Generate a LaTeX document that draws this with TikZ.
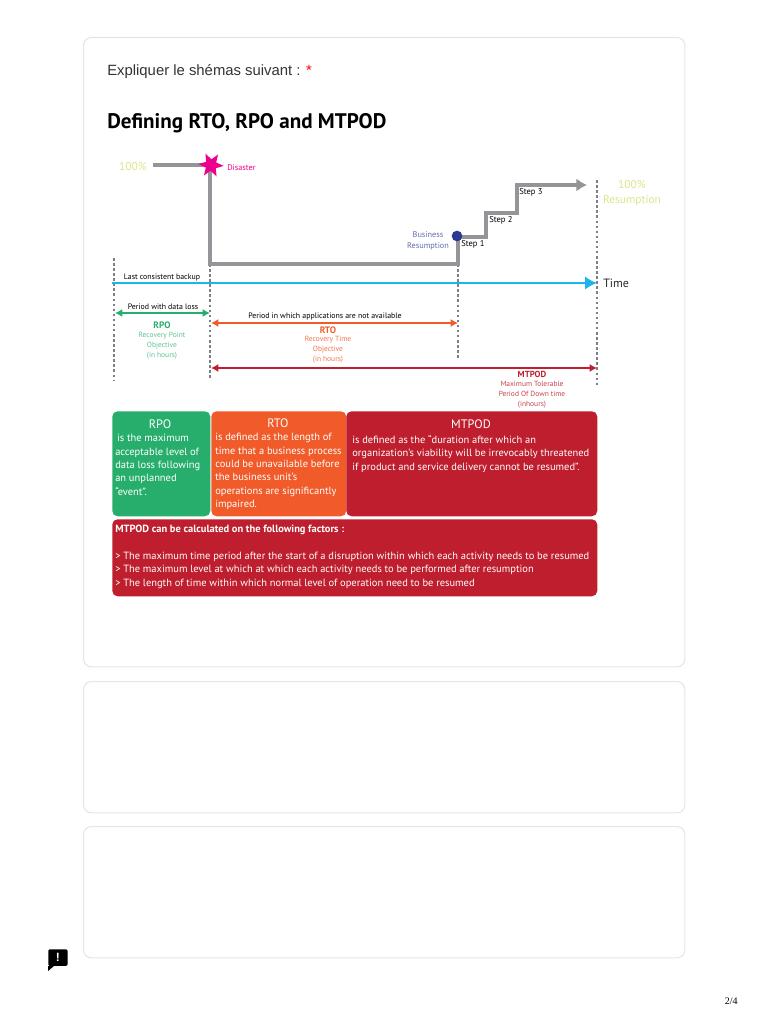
\documentclass[tikz,border=0pt]{standalone}
\usepackage{fontspec}
\usepackage{xcolor}
\setmainfont{PT Sans}
\newfontfamily\formfont{Liberation Sans}
\newfontfamily\pagefont{Liberation Serif}
\usetikzlibrary{arrows.meta,shapes.geometric}
\definecolor{rpogreen}{HTML}{27AE6C}
\definecolor{rtoorange}{HTML}{F15A29}
\definecolor{mtpodred}{HTML}{BE1E2D}
\definecolor{skyline}{HTML}{1CB5EA}
\definecolor{levelgray}{HTML}{939598}
\definecolor{hundred}{HTML}{DDE58A}
\definecolor{resumeblue}{HTML}{2B3990}
\definecolor{diskpink}{HTML}{EC008C}
\tikzset{
  card/.style={draw=black!10, line width=0.8pt, rounded corners=6pt, anchor=north west, minimum width=451pt, inner sep=0pt},
  colorbox/.style={rounded corners=4pt, anchor=north west, inner sep=0pt},
  boxtext/.style={text=white, anchor=north west, align=left, inner sep=0pt, font=\fontsize{7.85}{10}\selectfont},
  boxtitle/.style={text=white, inner sep=0pt, font=\fontsize{9.2}{11}\selectfont},
  level/.style={levelgray, line width=3pt},
  dotline/.style={levelgray!85!black, line width=1.5pt, dash pattern=on 1.9pt off 1.9pt},
  small/.style={inner sep=0pt, font=\fontsize{5.9}{7}\selectfont},
  sublabel/.style={inner sep=0pt, align=center, font=\fontsize{5.6}{7.6}\selectfont},
}
\begin{document}
\begin{tikzpicture}[x=0.75pt, y=-0.75pt]
  \useasboundingbox (0,0) rectangle (768,1024);
  % form cards
  \foreach \ypos/\hgt/\cardname in {37/472pt/cardone,681/98.5pt/cardtwo,826/98.5pt/cardthree}
    \node[card, minimum height=\hgt] (\cardname) at (83,\ypos) {};
  \node[anchor=base west, inner sep=0pt, text=black!80, font=\formfont\fontsize{11.15}{14}\selectfont] (question) at (107,75) {Expliquer le shémas suivant : \textcolor{red}{*}};
  \node[anchor=base west, inner sep=0pt, font=\fontsize{15.8}{18}\bfseries\selectfont] (title) at (107,128) {Defining RTO, RPO and MTPOD};
  % dotted guides
  \coordinate (leftup) at (114,258);
  \coordinate (leftdown) at (114,380);
  \coordinate (disup) at (210,264);
  \coordinate (disdown) at (210,380);
  \coordinate (resup) at (458,264);
  \coordinate (resdown) at (458,358);
  \coordinate (endup) at (597,180);
  \coordinate (enddown) at (597,385);
  \foreach \a/\b in {leftup/leftdown,disup/disdown,resup/resdown,endup/enddown}
    \draw[dotline] (\a) -- (\b);
  % service level
  \coordinate (levelstart) at (153,165);
  \coordinate (levelbreak) at (210,165);
  \coordinate (lowleft) at (210,264);
  \coordinate (lowright) at (458,264);
  \coordinate (stepone) at (458,237);
  \coordinate (steptwo) at (486,237);
  \coordinate (stepthree) at (486,213);
  \coordinate (stepfour) at (517,213);
  \coordinate (stepfive) at (517,185);
  \coordinate (levelend) at (587,185);
  \draw[level, -{Latex[length=8pt,width=10pt]}] (levelstart) -- (levelbreak) -- (lowleft) -- (lowright) -- (stepone) -- (steptwo) -- (stepthree) -- (stepfour) -- (stepfive) -- (levelend);
  \node[star, star points=6, star point ratio=2.2, fill=diskpink, inner sep=0pt, minimum size=19pt, rotate=26] (burst) at (211,165) {};
  \node[circle, fill=resumeblue, inner sep=0pt, minimum size=8pt] (resdot) at (457,236) {};
  \node[anchor=center, inner sep=0pt, text=hundred, font=\fontsize{8.6}{10}\selectfont] (hundredleft) at (133,166) {100\%};
  \node[anchor=west, small, text=diskpink, font=\fontsize{6.2}{8}\selectfont] (disaster) at (227,168) {Disaster};
  \node[anchor=center, sublabel, text=resumeblue!75, font=\fontsize{6.2}{8.3}\selectfont] (business) at (428,241) {Business\\Resumption};
  \node[anchor=west, small, font=\fontsize{6.4}{8}\selectfont] (labelone) at (461,244) {Step 1};
  \node[anchor=west, small, font=\fontsize{6.4}{8}\selectfont] (labeltwo) at (489,220) {Step 2};
  \node[anchor=west, small, font=\fontsize{6.4}{8}\selectfont] (labelthree) at (519,192) {Step 3};
  \node[anchor=center, inner sep=0pt, align=center, text=hundred, font=\fontsize{8.6}{11.2}\selectfont] (hundredright) at (632,193) {100\%\\Resumption};
  % time axis
  \coordinate (timestart) at (112,283);
  \coordinate (timeend) at (597,283);
  \draw[skyline, line width=1.5pt, -{Latex[length=9pt,width=10pt]}] (timestart) -- (timeend);
  \node[anchor=west, inner sep=0pt, text=black!85, font=\fontsize{9}{11}\selectfont] (timelabel) at (603,283) {Time};
  \node[small] (lastbackup) at (162,277) {Last consistent backup};
  % periods
  \coordinate (rpoleft) at (115,313);
  \coordinate (rporight) at (210,313);
  \coordinate (rtoleft) at (211,323);
  \coordinate (rtoright) at (458,323);
  \coordinate (mtpodleft) at (211,368);
  \coordinate (mtpodright) at (597,368);
  \draw[rpogreen, line width=1.4pt, {Latex[length=5.5pt,width=6pt]}-{Latex[length=5.5pt,width=6pt]}] (rpoleft) -- (rporight);
  \draw[rtoorange, line width=1.4pt, {Latex[length=5.5pt,width=6pt]}-{Latex[length=5.5pt,width=6pt]}] (rtoleft) -- (rtoright);
  \draw[mtpodred, line width=1.4pt, {Latex[length=5.5pt,width=6pt]}-{Latex[length=5.5pt,width=6pt]}] (mtpodleft) -- (mtpodright);
  \node[small] (lossperiod) at (163,307) {Period with data loss};
  \node[small] (downperiod) at (325,316) {Period in which applications are not available};
  \node[sublabel, text=rpogreen, font=\fontsize{7}{8}\bfseries\selectfont] (rpohead) at (162,325) {RPO};
  \node[sublabel, text=rpogreen!75] (rposub) at (162,346) {Recovery Point\\Objective\\(in hours)};
  \node[sublabel, text=rtoorange, font=\fontsize{7}{8}\bfseries\selectfont] (rtohead) at (328,330) {RTO};
  \node[sublabel, text=rtoorange!85] (rtosub) at (328,350) {Recovery Time\\Objective\\(in hours)};
  \node[sublabel, text=mtpodred, font=\fontsize{6.6}{8}\bfseries\selectfont] (mtpodhead) at (532,374) {MTPOD};
  \node[sublabel, text=mtpodred!85] (mtpodsub) at (532,395) {Maximum Tolerable\\Period Of Down time\\(inhours)};
  % colour boxes
  \node[colorbox, fill=rpogreen, minimum width=73.5pt, minimum height=78.75pt] (rpobox) at (112,411) {};
  \node[colorbox, fill=rtoorange, minimum width=101.25pt, minimum height=78.75pt] (rtobox) at (211,411) {};
  \node[colorbox, fill=mtpodred, minimum width=188.25pt, minimum height=78.75pt] (mtpodbox) at (346,411) {};
  \node[colorbox, fill=mtpodred, minimum width=363.75pt, minimum height=57.75pt] (factorbox) at (112,519) {};
  \node[boxtitle] (rpotitle) at (160,424) {RPO};
  \node[boxtitle] (rtotitle) at (278,423) {RTO};
  \node[boxtitle] (mtpodtitle) at (471,424) {MTPOD};
  \node[boxtext] (rpotext) at (115,434) {\,is the maximum\\acceptable level of\\data loss following\\an unplanned\\“event”.};
  \node[boxtext] (rtotext) at (215,433) {is defined as the length of\\time that a business process\\could be unavailable before\\the business unit’s\\operations are significantly\\impaired.};
  \node[boxtext] (mtpodtext) at (352,435) {is defined as the “duration after which an\\organization’s viability will be irrevocably threatened\\if product and service delivery cannot be resumed”.};
  \node[boxtext] (factortext) at (115,525) {\textbf{MTPOD can be calculated on the following factors :}\\[10pt]> The maximum time period after the start of a disruption within which each activity needs to be resumed\\> The maximum level at which at which each activity needs to be performed after resumption\\> The length of time within which normal level of operation need to be resumed};
  % page furniture
  \node[fill=black, rounded corners=1pt, anchor=north west, minimum width=14.5pt, minimum height=12.5pt, inner sep=0pt, text=white, font=\formfont\fontsize{9}{9}\bfseries\selectfont] (feedback) at (48,949) {!};
  \coordinate (tailtop) at (48,966);
  \coordinate (tailright) at (54,966);
  \coordinate (tailtip) at (48,971);
  \fill[black] (tailtop) -- (tailright) -- (tailtip) -- cycle;
  \node[anchor=base east, inner sep=0pt, font=\pagefont\fontsize{7.5}{9}\selectfont] (pagenum) at (738,1004) {2/4};
\end{tikzpicture}
\end{document}
